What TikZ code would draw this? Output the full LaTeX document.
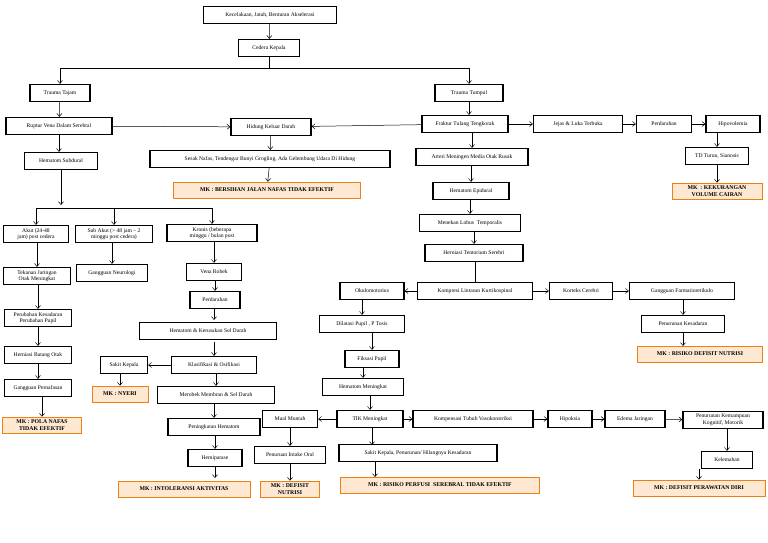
\documentclass[tikz,border=0pt]{standalone}
\usepackage{fontspec}
\setmainfont{Liberation Serif}
\usetikzlibrary{arrows.meta}
\begin{document}
\begin{tikzpicture}[x=1pt,y=-1pt,
  box/.style={draw=black,line width=1.3pt,fill=white,font=\fontsize{5.6}{6.6}\selectfont,align=center,inner sep=1pt,minimum height=17pt},
  mk/.style={draw=orange!70!brown,line width=0.6pt,fill=orange!18,font=\bfseries\fontsize{5.8}{7}\selectfont,align=center,inner sep=1pt,minimum height=16pt},
  ar/.style={-{Straight Barb[length=3pt,width=5pt]},line width=0.5pt},
  ln/.style={line width=0.5pt}]
\useasboundingbox (0,0) rectangle (768,543);
\newcommand{\bx}[5][box]{\node[#1,minimum width=#4pt] (#2) at #3 {#5};}
\bx{kec}{(270,15)}{133}{Kecelakaan, Jatuh, Benturan Akselerasi}
\bx{ced}{(269,48)}{61}{Cedera Kepala}
\bx{taj}{(60,93)}{60}{Trauma Tajam}
\bx{tum}{(469,93)}{68}{Trauma Tumpul}
\bx{rup}{(59,126)}{106}{Ruptur Vena Dalam Serebral}
\bx{hid}{(271,127)}{80}{Hidung Keluar Darah}
\bx{fra}{(465,124)}{86}{Fraktur Tulang Tengkorak}
\bx{jej}{(578,124)}{89}{Jejas \& Luka Terbuka}
\bx{per2}{(664,124)}{55}{Perdarahan}
\bx{hip}{(733,124)}{54}{Hipovolemia}
\bx{tdt}{(717,156)}{63}{TD Turun, Sianosis}
\bx[mk]{mkk}{(717,191)}{90}{MK\ \ : KEKURANGAN\\VOLUME CAIRAN}
\bx{art}{(472,157)}{112}{Arteri Meningen Media Otak Rusak}
\bx{epi}{(471,191)}{76}{Hematom Epidural}
\bx{men}{(470,223)}{101}{Menekan Lobus\ \ Temporalis}
\bx{her}{(474,253)}{98}{Herniasi Tentorium Serebri}
\bx{sub}{(61,161)}{73}{Hematom Subdural}
\bx{ses}{(270,159)}{240}{Sesak Nafas, Tendengar Bunyi Grogling, Ada Gelembung Udara Di Hidung}
\bx[mk]{mkb}{(267,190)}{187}{MK : BERSIHAN JALAN NAFAS TIDAK EFEKTIF}
\bx{aku}{(36,234)}{65}{Akut (24-48\\jam) post cedera}
\bx{sak}{(114,234)}{77}{Sub Akut (> 48 jam -- 2\\minggu post cedera)}
\bx{kro}{(212,233)}{90}{Kronis (beberapa\\minggu / bulan post}
\bx{tek}{(37,276)}{67}{Tekanan Jaringan\\Otak Meningkat}
\bx{gne}{(112,273)}{71}{Gangguan Neurologi}
\bx{ven}{(214,272)}{55}{Vena Robek}
\bx{per1}{(215,300)}{50}{Perdarahan}
\bx{pku}{(38,318)}{67}{Perubahan Kesadaran\\Perubahan Pupil}
\bx{hks}{(208,331)}{137}{Hematom \& Kerusakan Sel Darah}
\bx{hbo}{(38,355)}{67}{Herniasi Batang Otak}
\bx{kla}{(214,365)}{85}{Klasifikasi \& Osifikasi}
\bx{skp}{(124,365)}{47}{Sakit Kepala}
\bx[mk]{mkn}{(120,394)}{56}{MK : NYERI}
\bx{gpe}{(38,388)}{67}{Gangguan Pernafasan}
\bx{mer}{(216,395)}{117}{Merobek Membran \& Sel Darah}
\bx[mk]{mkp}{(42,425)}{79}{MK : POLA NAFAS\\TIDAK EFEKTIF}
\bx{pen}{(214,427)}{92}{Peningkatan Hematom}
\bx{hem}{(215,458)}{54}{Hemiparase}
\bx[mk]{mki}{(184,489)}{132}{MK : INTOLERANSI AKTIVITAS}
\bx{mua}{(290,419)}{55}{Mual Muntah}
\bx{pio}{(290,455)}{71}{Penuruan Intake Oral}
\bx[mk]{mkd}{(290,489)}{59}{MK : DEFISIT\\NUTRISI}
\bx{kom}{(475,291)}{115}{Kompresi Lintasan Kurtikospinal}
\bx{oku}{(372,291)}{64}{Okulomotorius}
\bx{kor}{(581,291)}{63}{Korteks Cerebri}
\bx{gfa}{(682,291)}{105}{Gangguan Farmatioretikulo}
\bx{dil}{(362,324)}{85}{Dilatasi Pupil , P Tosis}
\bx{pke}{(683,324)}{83}{Penurunan Kesadaran}
\bx[mk]{mkr}{(700,354)}{125}{MK : RISIKO DEFISIT NUTRISI}
\bx{fik}{(372,359)}{54}{Fiksasi Pupil}
\bx{hme}{(363,387)}{81}{Hematom Meningkat}
\bx{tik}{(370,419)}{66}{TIK Meningkat}
\bx{kmp}{(473,419)}{120}{Kompensasi Tubuh Vasokonstriksi}
\bx{hps}{(570,419)}{44}{Hipoksia}
\bx{ede}{(635,419)}{60}{Edema Jaringan}
\bx{pkm}{(723,420)}{80}{Penurunan Kemampuan\\Kognitif, Motorik}
\bx{kel}{(727,460)}{51}{Kelemahan}
\bx[mk]{mkw}{(699,488)}{132}{MK : DEFISIT PERAWATAN DIRI}
\bx{skh}{(418,453)}{158}{Sakit Kepala, Penurunan/ Hilangnya Kesadaran}
\bx[mk]{mkf}{(440,485)}{199}{MK : RISIKO PERFUSI\ \ SEREBRAL TIDAK EFEKTIF}
% connectors
\draw[ar] (kec) -- (ced);
\coordinate (sp) at (ced.south |- 0,68);
\draw[ln] (ced) -- (sp);
\draw[ar] (sp) -| (taj);
\draw[ar] (sp) -| (tum);
\draw[ar] (taj) -- (rup);
\draw[ar] (tum) -- (tum|-fra.north);
\draw[ar] (rup) -- (hid);
\draw[ar] (fra) -- (hid);
\draw[ar] (rup) -- (rup|-sub.north);
\draw[ar] (hid) -- (ses);
\draw[ar] (ses) -- (mkb);
\draw[ar] (fra) -- (jej);
\draw[ar] (jej) -- (per2);
\draw[ar] (per2) -- (hip);
\draw[ar] (hip.south -| tdt) -- (tdt);
\draw[ar] (tdt) -- (mkk);
\draw[ar] (fra.south -| art) -- (art);
\draw[ar] (art.south -| epi) -- (epi);
\draw[ar] (epi.south -| men) -- (men);
\draw[ar] (men.south -| her) -- (her);
\draw[ln] (her.south -| kom) -- (kom);
\coordinate (s2) at (61,208);
\draw[ar] (sub) -- (61,205);
\draw[ln] (aku.north |- s2) -- (kro.north |- s2);
\draw[ar] (aku.north |- s2) -- (aku);
\draw[ar] (sak.north |- s2) -- (sak);
\draw[ar] (kro.north |- s2) -- (kro);
\draw[ar] (aku.south -| tek) -- (tek);
\draw[ar] (sak.south -| gne) -- (gne);
\draw[ar] (kro.south -| ven) -- (ven);
\draw[ar] (tek.south -| pku) -- (pku);
\draw[ar] (pku) -- (hbo);
\draw[ar] (hbo) -- (gpe);
\draw[ar] (gpe.south -| mkp) -- (mkp);
\draw[ar] (ven.south -| per1) -- (per1);
\draw[ar] (per1.south -| 214,0) -- (214,320);
\draw[ar] (214,342) -- (kla);
\draw[ar] (kla) -- (skp);
\draw[ar] (skp.south -| mkn) -- (mkn);
\draw[ar] (kla.south -| mer) -- (mer);
\draw[ar] (mer.south -| pen) -- (pen);
\draw[ar] (pen.south -| hem) -- (hem);
\draw[ar] (hem.south -| 215,0) -- (215,478);
\draw[ar] (kom) -- (oku);
\draw[ar] (kom) -- (kor);
\draw[ar] (kor) -- (gfa);
\draw[ar] (gfa.south -| pke) -- (pke);
\draw[ar] (pke.south -| 683,0) -- (683,346);
\draw[ar] (oku.south -| dil) -- (dil);
\draw[ar] (dil.south -| fik) -- (fik);
\draw[ar] (fik.south -| hme) -- (hme);
\draw[ar] (hme.south -| tik) -- (tik);
\draw[ar] (tik) -- (mua);
\draw[ar] (tik) -- (kmp);
\draw[ar] (kmp) -- (hps);
\draw[ar] (hps) -- (ede);
\draw[ar] (ede) -- (pkm);
\draw[ar] (pkm.south -| kel) -- (kel);
\draw[ar] (kel.south -| mkw) -- (mkw);
\draw[ar] (mua) -- (pio);
\draw[ar] (pio) -- (mkd);
\draw[ar] (tik.south -| 372,0) -- (372,445);
\draw[ar] (375,462) -- (375,477);
\end{tikzpicture}
\end{document}
